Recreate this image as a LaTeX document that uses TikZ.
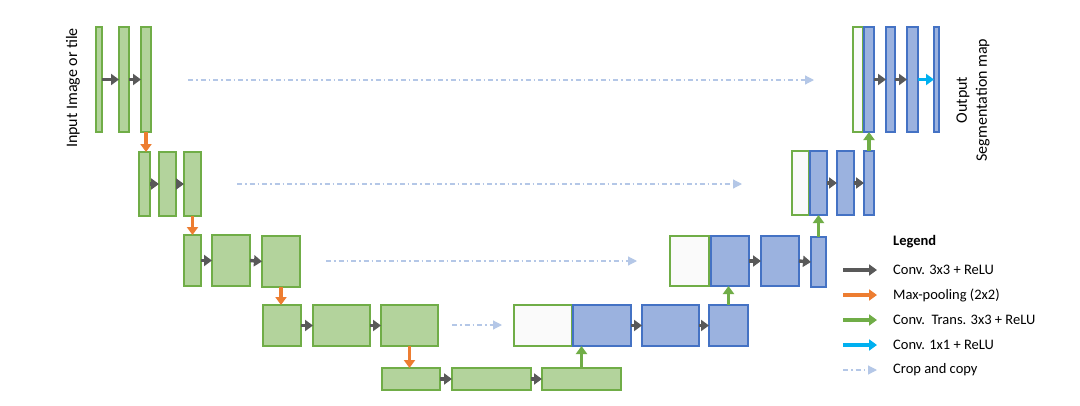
\documentclass[tikz,border=0pt]{standalone}
\usepackage{fontspec}
\setmainfont{Carlito}
\usetikzlibrary{arrows.meta}
\definecolor{gfill}{HTML}{B3D39C}
\definecolor{gline}{HTML}{70AD47}
\definecolor{bfill}{HTML}{9BB2DF}
\definecolor{bline}{HTML}{4472C4}
\definecolor{darkar}{HTML}{595959}
\definecolor{orar}{HTML}{ED7D31}
\definecolor{crop}{HTML}{B4C7E7}
\definecolor{cyanar}{HTML}{00B0F0}
\tikzset{
 base/.style={inner sep=0pt,outer sep=0pt,line width=1.2pt},
 gbox/.style={base,draw=gline,fill=gfill},
 bbox/.style={base,draw=bline,fill=bfill},
 wbox/.style={base,draw=gline,fill=white!98!black},
 arr/.style={line width=3.4pt,-{Triangle[length=8pt,width=11pt]}},
 conv/.style={arr,darkar},
 pool/.style={arr,orar},
 up/.style={arr,gline},
 one/.style={arr,cyanar},
 cropar/.style={crop,line width=1.2pt,dash pattern=on 5pt off 3pt on 1.5pt off 3pt,-{Triangle[length=9pt,width=9pt]}},
 lbl/.style={font=\fontsize{14.5}{17}\selectfont,anchor=west,inner sep=0pt}
}
\newcommand{\bx}[6]{\node[#6,anchor=north west,minimum width=#4pt-#2pt,minimum height=#5pt-#3pt] (#1) at (#2,#3) {};}
\begin{document}
\begin{tikzpicture}[x=1pt,y=-1pt]
\useasboundingbox[fill=white] (0,0) rectangle (1080,405);
% encoder
\bx{A1}{96}{27}{102}{132}{gbox}
\bx{A2}{119}{27}{129}{132}{gbox}
\bx{A3}{141}{27}{151}{132}{gbox}
\bx{B1}{139}{152}{150}{216}{gbox}
\bx{B2}{159}{152}{176}{216}{gbox}
\bx{B3}{184}{152}{201}{216}{gbox}
\bx{C1}{184}{235}{201}{286}{gbox}
\bx{C2}{212}{235}{250}{286}{gbox}
\bx{C3}{262}{236}{300}{287}{gbox}
\bx{D1}{263}{305}{301}{346}{gbox}
\bx{D2}{313}{305}{370}{346}{gbox}
\bx{D3}{381}{305}{438}{346}{gbox}
\bx{E1}{382}{368}{440}{390}{gbox}
\bx{E2}{452}{368}{531}{390}{gbox}
\bx{E3}{542}{368}{621}{390}{gbox}
% decoder
\bx{R4a}{514}{305}{572}{346}{wbox}
\bx{R4b}{573}{305}{631}{346}{bbox}
\bx{R4c}{642}{305}{699}{346}{bbox}
\bx{R4d}{709}{305}{748}{346}{bbox}
\bx{R3a}{670}{236}{709}{286}{wbox}
\bx{R3b}{711}{236}{749}{286}{bbox}
\bx{R3c}{761}{236}{799}{286}{bbox}
\bx{R3d}{811}{237}{826}{287}{bbox}
\bx{R2a}{792}{151}{809}{215}{wbox}
\bx{R2b}{810}{151}{827}{215}{bbox}
\bx{R2c}{837}{151}{854}{215}{bbox}
\bx{R2d}{864}{151}{874}{215}{bbox}
\bx{R1a}{853}{27}{863}{132}{wbox}
\bx{R1b}{864}{27}{874}{132}{bbox}
\bx{R1c}{886}{27}{895}{132}{bbox}
\bx{R1d}{907}{27}{918}{132}{bbox}
\bx{R1e}{934}{27}{939}{132}{bbox}
% conv arrows
\foreach \a/\b in {A1/A2,A2/A3,B1/B2,B2/B3,C1/C2,C2/C3,D1/D2,D2/D3,E1/E2,E2/E3,R4b/R4c,R4c/R4d,R3b/R3c,R3c/R3d,R2b/R2c,R2c/R2d,R1b/R1c,R1c/R1d}
  \draw[conv] (\a.east) -- (\b.west);
\draw[one] (R1d.east) -- (R1e.west);
% pooling
\foreach \a/\b in {A3/B1,B3/C1,C3/D1,D3/E1}
  \draw[pool] (\a.south) -- (\a.south |- \b.north);
% up
\draw[up] (E3.north) -- (E3.north |- R4b.south);
\draw[up] (R4d.north) -- (R4d.north |- R3b.south);
\draw[up] (R3d.north) -- (R3d.north |- R2b.south);
\draw[up] (R2d.north) -- (R2d.north |- R1b.south);
% crop and copy
\coordinate (c1s) at (188,80); \coordinate (c1e) at (814,80);
\coordinate (c2s) at (237,184); \coordinate (c2e) at (742,184);
\coordinate (c3s) at (326,261); \coordinate (c3e) at (637,261);
\coordinate (c4s) at (452,325); \coordinate (c4e) at (502,325);
\foreach \i in {1,2,3,4} \draw[cropar] (c\i s) -- (c\i e);
% side labels
\node[rotate=90,font=\fontsize{16}{19}\selectfont,inner sep=0pt] (inlbl) at (73,88) {Input Image or tile};
\node[rotate=90,font=\fontsize{16}{20}\selectfont,align=center,inner sep=0pt] (outlbl) at (973,100) {Output\\Segmentation map};
% legend
\node[lbl,font=\fontsize{14.5}{17}\selectfont\bfseries] (lg) at (893,242) {Legend};
\coordinate (l1s) at (843,270); \coordinate (l1e) at (877,270);
\coordinate (l2s) at (843,295); \coordinate (l2e) at (877,295);
\coordinate (l3s) at (843,320); \coordinate (l3e) at (877,320);
\coordinate (l4s) at (843,345); \coordinate (l4e) at (877,345);
\coordinate (l5s) at (843,370); \coordinate (l5e) at (877,370);
\draw[conv] (l1s) -- (l1e); \node[lbl] (t1) at (893,270) {Conv. 3x3 + ReLU};
\draw[pool] (l2s) -- (l2e); \node[lbl] (t2) at (893,295) {Max-pooling (2x2)};
\draw[up] (l3s) -- (l3e); \node[lbl] (t3) at (893,320) {Conv.\ \ Trans. 3x3 + ReLU};
\draw[one] (l4s) -- (l4e); \node[lbl] (t4) at (893,345) {Conv. 1x1 + ReLU};
\draw[cropar] (l5s) -- (l5e); \node[lbl] (t5) at (893,370) {Crop and copy};
\end{tikzpicture}
\end{document}
